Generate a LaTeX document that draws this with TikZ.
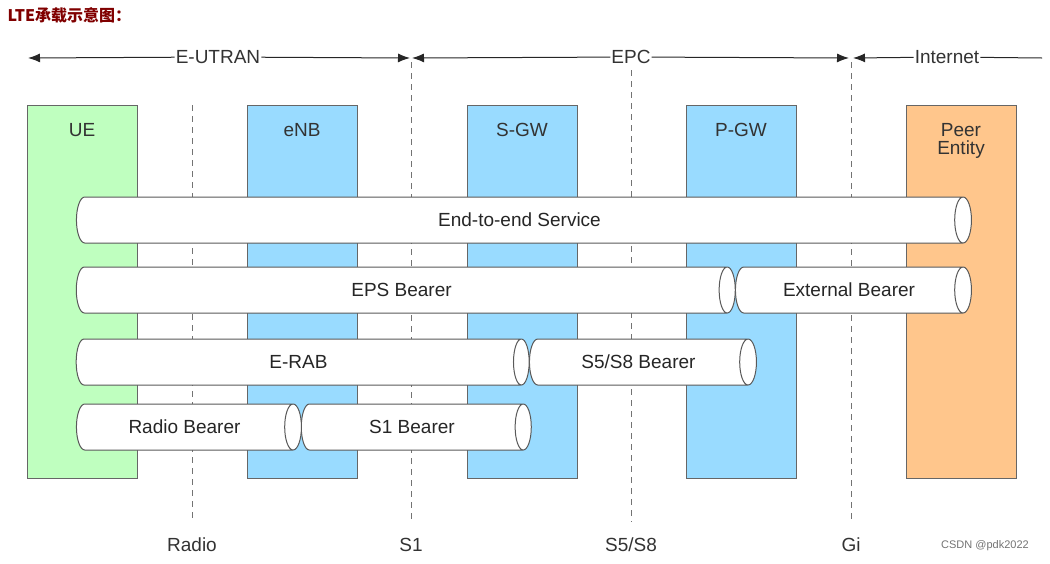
\documentclass[tikz,border=0pt]{standalone}
\usepackage{fontspec}
\setmainfont{Liberation Sans}
\newfontfamily\cjk{Noto Sans CJK SC}
\usetikzlibrary{shapes.geometric,arrows.meta}
\begin{document}
\begin{tikzpicture}[x=1pt,y=-1pt,
  ent/.style={draw=black!60,line width=0.8pt,minimum width=110pt,minimum height=373pt,
    anchor=north west,inner sep=0pt,text depth=0pt},
  lbl/.style={font=\fontsize{19}{21}\selectfont,text=black!80},
  sep/.style={dash pattern=on 6pt off 5pt,draw=black!55,line width=1pt},
  pipe/.style={cylinder,draw=black!65,line width=1pt,fill=white,aspect=1.2,
    minimum width=46pt,inner sep=0pt,font=\fontsize{19}{21}\selectfont,text=black!85},
  dom/.style={line width=1pt,draw=black!85},
  tip/.style={-{Latex[length=12pt,width=9pt]}}]
\useasboundingbox (0,0) rectangle (1050,563);
\node[anchor=north west,text=red!50!black,font=\cjk\bfseries\fontsize{16}{18}\selectfont] (title) at (4,4) {LTE承载示意图：};
% entities
\node[ent,fill=green!25] (ue) at (27,105) {};
\node[ent,fill=blue!35!cyan!40] (enb) at (247,105) {};
\node[ent,fill=blue!35!cyan!40] (sgw) at (467,105) {};
\node[ent,fill=blue!35!cyan!40] (pgw) at (686,105) {};
\node[ent,fill=orange!45] (peer) at (906,105) {};
\node[lbl] at (82,130) {UE};
\node[lbl] at (302,130) {eNB};
\node[lbl] at (522,130) {S-GW};
\node[lbl] at (741,130) {P-GW};
\node[lbl,align=center] at (961,141) {Peer\\[-3pt]Entity};
% reference points
\coordinate (r1) at (192,105); \coordinate (r2) at (192,522);
\coordinate (s1) at (411,62); \coordinate (s2) at (411,522);
\coordinate (p1) at (631,70); \coordinate (p2) at (631,522);
\coordinate (g1) at (851,62); \coordinate (g2) at (851,522);
\draw[sep] (r1) -- (r2);
\draw[sep] (s1) -- (s2);
\draw[sep] (p1) -- (p2);
\draw[sep] (g1) -- (g2);
\node[lbl] at (192,545) {Radio};
\node[lbl] at (411,545) {S1};
\node[lbl] at (631,545) {S5/S8};
\node[lbl] at (851,545) {Gi};
% domains
\coordinate (a0) at (28,58); \coordinate (a1) at (410,58);
\coordinate (a2) at (412,58); \coordinate (a3) at (849,58);
\coordinate (a4) at (853,58); \coordinate (a5) at (1042,58);
\node[lbl,fill=white,inner sep=1pt] (eut) at (218,57) {E-UTRAN};
\node[lbl,fill=white,inner sep=1pt] (epc) at (631,57) {EPC};
\node[lbl,fill=white,inner sep=1pt] (inet) at (947,57) {Internet};
\draw[dom,tip] (eut) -- (a0);
\draw[dom,tip] (eut) -- (a1);
\draw[dom,tip] (epc) -- (a2);
\draw[dom,tip] (epc) -- (a3);
\draw[dom,tip] (inet) -- (a4);
\draw[dom] (inet) -- (a5);
% bearers
\node[pipe,minimum height=895pt] (e2e) at (519.5,220) {End-to-end Service};
\node[pipe,minimum height=236pt] (ext) at (849,290) {External Bearer};
\node[pipe,minimum height=659pt] (eps) at (401.5,290) {EPS Bearer};
\node[pipe,minimum height=227pt] (s58) at (638.5,362) {S5/S8 Bearer};
\node[pipe,minimum height=453pt] (erab) at (298.5,362) {E-RAB};
\node[pipe,minimum height=230pt] (s1b) at (412,427) {S1 Bearer};
\node[pipe,minimum height=225pt] (rb) at (184.5,427) {Radio Bearer};
\node[text=black!55,font=\fontsize{11}{12}\selectfont] (wm) at (985,546) {CSDN @pdk2022};
\end{tikzpicture}
\end{document}
